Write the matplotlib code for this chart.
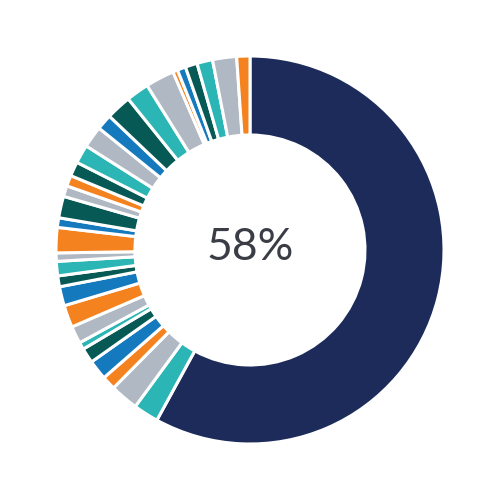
import matplotlib
matplotlib.use('Agg')
import matplotlib.pyplot as plt

# share of the big slice
main_share = 58

# small slices, clockwise after the big one
small_colors = ['teal', 'gray', 'orange', 'blue', 'dgreen', 'teal', 'gray', 'orange',
                'blue', 'dgreen', 'teal', 'gray', 'orange', 'blue', 'dgreen', 'gray',
                'orange', 'dgreen', 'teal', 'gray', 'blue', 'dgreen', 'teal', 'gray',
                'orange', 'blue', 'dgreen', 'teal', 'gray', 'orange']
small_values = [2.1, 2.35, 1.15, 1.65, 1.25, 0.6, 1.45, 1.85,
                1.6, 0.9, 1.2, 0.7, 2.1, 0.8, 1.8, 0.9,
                0.9, 1.2, 1.55, 1.8, 1.3, 2.1, 1.9, 2.4,
                0.4, 0.7, 1.0, 1.3, 2.0, 1.1]

palette = {
    'navy': '#1c2b5a',
    'teal': '#2bb5b4',
    'gray': '#b0b8c3',
    'orange': '#f4821f',
    'blue': '#1479bd',
    'dgreen': '#075955',
}

values = [main_share] + small_values
colors = [palette['navy']] + [palette[c] for c in small_colors]

fig = plt.figure(figsize=(5, 5), dpi=100)
ax = fig.add_axes([0, 0, 1, 1])

ax.pie(values, colors=colors, startangle=90, counterclock=False,
       radius=194, wedgeprops=dict(width=79, edgecolor='white', linewidth=2.2))

ax.text(0, 3, f'{main_share}%', ha='center', va='center', fontsize=32,
        family='Lato', color='#3a3d45')

ax.set_xlim(-250, 250)
ax.set_ylim(-250, 250)
ax.set_aspect('equal')
ax.axis('off')

fig.savefig('out.png', dpi=100, facecolor='white')
